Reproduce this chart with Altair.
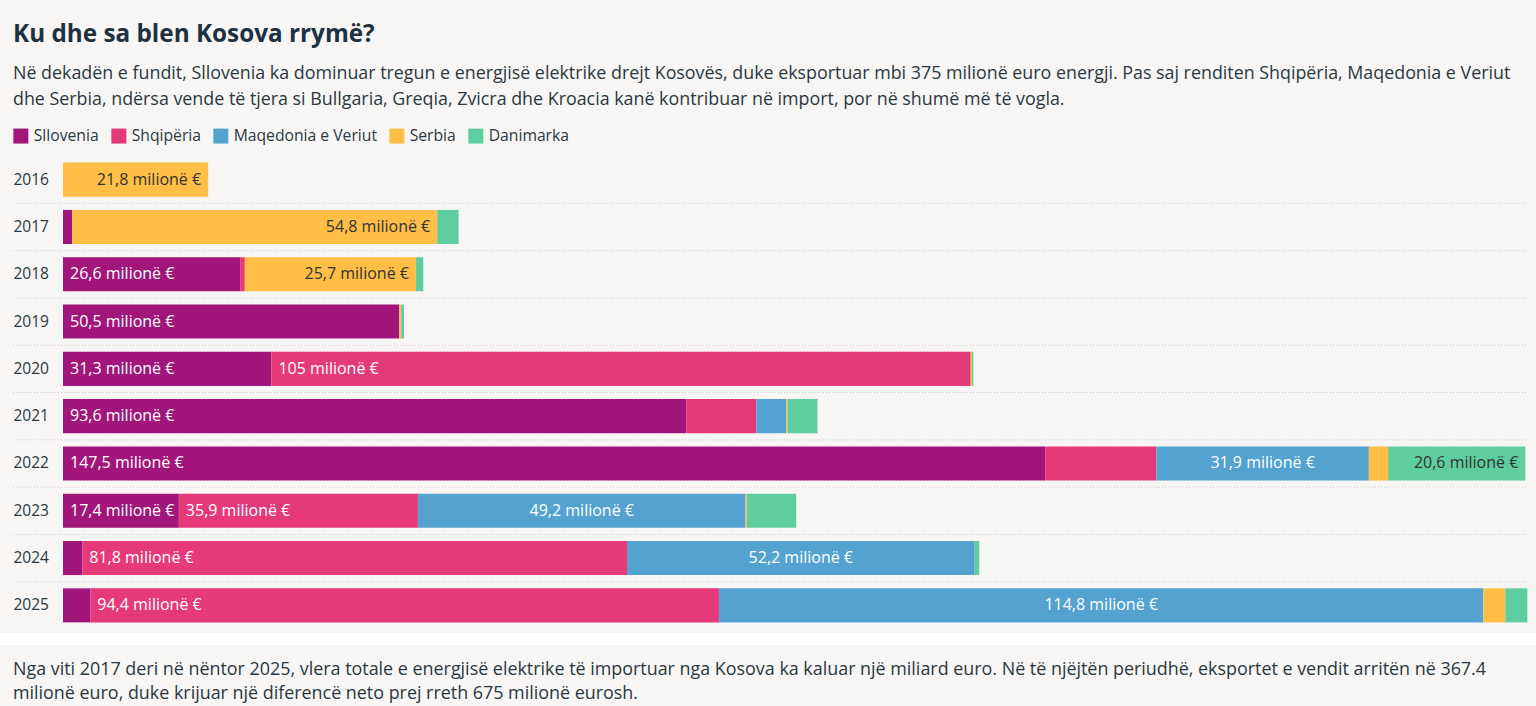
import altair as alt
import pandas as pd

# ---------------- data ----------------
years = ["2016", "2017", "2018", "2019", "2020", "2021", "2022", "2023", "2024", "2025"]
countries = ["Sllovenia", "Shqipëria", "Maqedonia e Veriut", "Serbia", "Danimarka"]
colors = ["#a2167c", "#e5397a", "#53a2cf", "#ffbe45", "#5ecda0"]

sllovenia = [0, 1.4, 26.6, 50.5, 31.3, 93.6, 147.5, 17.4, 2.9, 4.1]
shqiperia = [0, 0, 0.7, 0, 105, 10.5, 16.7, 35.9, 81.8, 94.4]
maqedonia = [0, 0, 0, 0, 0, 4.5, 31.9, 49.2, 52.2, 114.8]
serbia = [21.8, 54.8, 25.7, 0.3, 0.2, 0.2, 2.9, 0.2, 0, 3.3]
danimarka = [0, 3.2, 1.1, 0.4, 0.2, 4.5, 20.6, 7.4, 0.7, 3.3]

series = [sllovenia, shqiperia, maqedonia, serbia, danimarka]
label_anchor = ["left", "left", "center", "right", "right"]
label_threshold = 17

title_text = "Ku dhe sa blen Kosova rrymë?"
subtitle_lines = [
    "Në dekadën e fundit, Sllovenia ka dominuar tregun e energjisë elektrike drejt Kosovës, duke eksportuar mbi 375 milionë euro energji. Pas saj renditen Shqipëria, Maqedonia e Veriut",
    "dhe Serbia, ndërsa vende të tjera si Bullgaria, Greqia, Zvicra dhe Kroacia kanë kontribuar në import, por në shumë më të vogla.",
]
footer_lines = [
    "Nga viti 2017 deri në nëntor 2025, vlera totale e energjisë elektrike të importuar nga Kosova ka kaluar një miliard euro. Në të njëjtën periudhë, eksportet e vendit arritën në 367.4",
    "milionë euro, duke krijuar një diferencë neto prej rreth 675 milionë eurosh.",
]


def fmt(v):
    s = str(int(v)) if float(v).is_integer() else f"{v:.1f}".replace(".", ",")
    return s + " milionë €"


rows = []
for ci, (c, vals) in enumerate(zip(countries, series)):
    for y, v in zip(years, vals):
        if v > 0:
            rows.append(dict(year=y, country=c, order=ci, value=v,
                             anchor=label_anchor[ci],
                             label=fmt(v) if v >= label_threshold else ""))
df = pd.DataFrame(rows)
sep_df = pd.DataFrame({"year": years[1:]})
one = pd.DataFrame({"a": [0]})

# ---------------- layout ----------------
FONT = "Open Sans"
TXT = "#2a3841"
W, H = 1465, 473

xscale = alt.Scale(domain=[0, 220], nice=False, zero=True)
yscale = alt.Scale(domain=years, paddingInner=0.28, paddingOuter=0.14)

yenc = alt.Y("year:N", scale=yscale, sort=years, title=None,
             axis=alt.Axis(domain=False, ticks=False, grid=False, labelAlign="left",
                           labelPadding=50, labelFontSize=15.5, labelColor=TXT,
                           labelFont=FONT))

base = alt.Chart(df).transform_stack(
    stack="value", groupby=["year"], sort=[alt.SortField("order", order="ascending")],
    as_=["x0", "x1"]
).transform_calculate(xm="(datum.x0 + datum.x1) / 2")

bars = base.mark_bar().encode(
    y=yenc,
    x=alt.X("x0:Q", scale=xscale, axis=None),
    x2="x1:Q",
    color=alt.Color("country:N", scale=alt.Scale(domain=countries, range=colors),
                    legend=alt.Legend(title=None, orient="none", legendX=-50, legendY=-28,
                                      direction="horizontal", symbolType="square",
                                      symbolSize=225, symbolStrokeWidth=0, labelFontSize=15.7,
                                      labelFont=FONT, labelColor=TXT, columnPadding=12,
                                      labelOffset=5, padding=0)),
)

txt_kw = dict(baseline="middle", fontSize=16, font=FONT)
left = base.transform_filter("datum.label != '' && datum.anchor == 'left'").mark_text(
    align="left", dx=7, color="white", **txt_kw
).encode(y=yenc, x=alt.X("x0:Q", scale=xscale), text="label:N")
center = base.transform_filter("datum.label != '' && datum.anchor == 'center'").mark_text(
    align="center", color="white", **txt_kw
).encode(y=yenc, x=alt.X("xm:Q", scale=xscale), text="label:N")
right = base.transform_filter("datum.label != '' && datum.anchor == 'right'").mark_text(
    align="right", dx=-7, color="#333333", **txt_kw
).encode(y=yenc, x=alt.X("x1:Q", scale=xscale), text="label:N")

seps = alt.Chart(sep_df).mark_rule(strokeDash=[1, 2], color="#c9c9c9", strokeWidth=1,
                                   yOffset=-6.6).encode(
    y=alt.Y("year:N", scale=yscale, sort=years, bandPosition=0, title=None),
    x=alt.value(-50), x2=alt.value(W),
)

band = alt.Chart(one).mark_rect(color="white").encode(
    x=alt.value(-63), x2=alt.value(W + 8), y=alt.value(477), y2=alt.value(489)
)

footer = alt.Chart(one).mark_text(align="left", baseline="alphabetic", fontSize=17.9,
                                  font=FONT, color=TXT, lineHeight=24).encode(
    x=alt.value(-50), y=alt.value(519), text=alt.value(footer_lines)
)

chart = alt.layer(seps, bars, left, center, right, band, footer).properties(
    width=W, height=H,
    autosize=alt.AutoSizeParams(type="none"),
    padding={"left": 63, "top": 156, "right": 8, "bottom": 77},
    title=alt.Title(text=title_text, subtitle=subtitle_lines, anchor="start", frame="group",
                    dx=-50, offset=19, font=FONT, fontSize=24.3, fontWeight="bold",
                    color="#1d3141", subtitleFont=FONT, subtitleFontSize=17.85,
                    subtitleColor=TXT, subtitleLineHeight=26, subtitlePadding=18),
).configure(background="#f7f6f4").configure_view(stroke=None)

chart.save("out.html", embed_options={"renderer": "svg", "actions": False})
